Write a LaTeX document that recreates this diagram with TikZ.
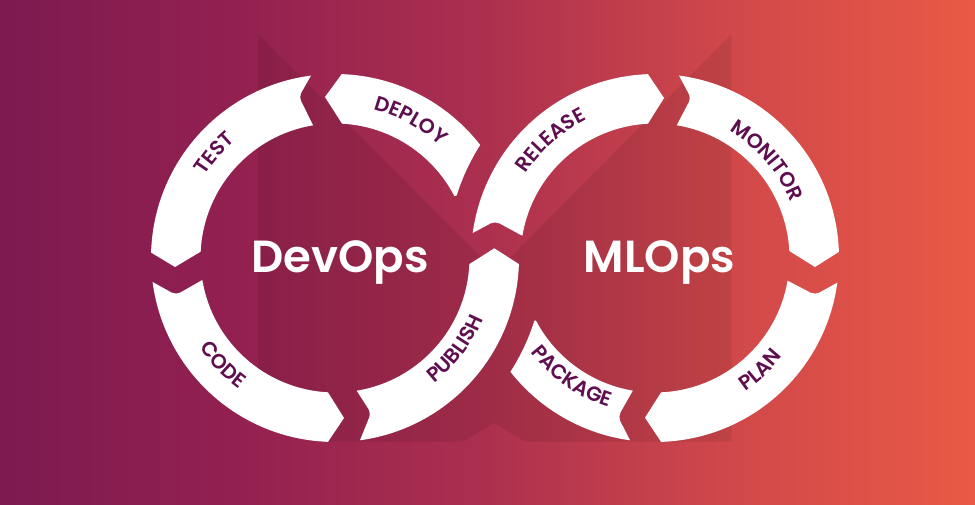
\documentclass[tikz,border=0pt]{standalone}
\usepackage{fontspec}
\usetikzlibrary{decorations.text}
\newfontfamily\titlefont{Poppins SemiBold}
\newfontfamily\lblfont{Poppins SemiBold}[LetterSpace=3]
\definecolor{lblcol}{HTML}{5F0F50}
\pgfdeclarehorizontalshading{bgshade}{100bp}{
  rgb(0bp)=(0.490,0.102,0.314);
  rgb(25bp)=(0.490,0.102,0.314);
  rgb(37.8bp)=(0.580,0.129,0.314);
  rgb(50bp)=(0.675,0.188,0.306);
  rgb(62.4bp)=(0.816,0.282,0.290);
  rgb(75bp)=(0.914,0.349,0.271);
  rgb(100bp)=(0.914,0.349,0.271)}
\tikzset{
  band/.style={fill=white,draw=none},
  mshade/.style={fill=black,fill opacity=0.08,draw=none},
  title/.style={text=white,anchor=base,font=\titlefont\fontsize{45}{45}\selectfont,inner sep=0pt},
}
\newcommand{\toplbl}[3]{% angle, radius, text (clockwise)
  \path[decorate,decoration={text along path,text align=center,text={|\lblfont\fontsize{20.5}{20.5}\selectfont\color{lblcol}|#3}}]
    ({#1+55}:#2) arc[start angle={#1+55},end angle={#1-55},radius=#2];}
\newcommand{\botlbl}[3]{% angle, radius, text (counter-clockwise)
  \path[decorate,decoration={text along path,text align=center,text={|\lblfont\fontsize{20.5}{20.5}\selectfont\color{lblcol}|#3}}]
    ({#1-55}:#2) arc[start angle={#1-55},end angle={#1+55},radius=#2];}
\begin{document}
\begin{tikzpicture}[x=1pt,y=1pt]
\useasboundingbox (0,0) rectangle (975,504);
\shade[shading=bgshade,shading angle=0] (0,0) rectangle (975,504);
% background M
\fill[mshade] (258,470) -- (496,232) -- (731.5,470) -- (731.5,62.3) -- (525,62.3) -- (494,81.3) -- (463,62.3) -- (330,62.3) -- (258,84) -- cycle;
% left ring
\begin{scope}[shift={(335,246)}]
  % TEST
  \fill[band] (97.5:184) arc[start angle=97.5,end angle=178.3,radius=184] -- (-160,-9) -- (177.3:134.5) arc[start angle=177.3,end angle=99.4,radius=134.5] [rounded corners=5pt] -- (-36,161.3) [sharp corners] -- cycle;
  % DEPLOY
  \fill[band] (87.9:184) arc[start angle=87.9,end angle=37.9,radius=184] arc[start angle=147.4,end angle=162.7,radius=209] -- (27.4:134.5) arc[start angle=27.4,end angle=87,radius=134.5] -- (-10,161) -- cycle;
  % CODE
  \fill[band] (187.5:184) arc[start angle=187.5,end angle=267.8,radius=184] -- (9,-160) -- (267:134.5) arc[start angle=267,end angle=189.4,radius=134.5] [rounded corners=5pt] -- (-159,-37) [sharp corners] -- cycle;
  % PUBLISH
  \fill[band] (277.8:184) arc[start angle=277.8,end angle=358.1,radius=184] -- (159.3,9.7) -- (357.4:134.5) arc[start angle=357.4,end angle=279.3,radius=134.5] [rounded corners=5pt] -- (36,-155) [sharp corners] -- cycle;
  \toplbl{139}{154}{TEST}
  \toplbl{61.2}{153.5}{DEPLOY}
  \botlbl{223.7}{162.5}{CODE}
  \botlbl{-37}{160}{PUBLISH}
\end{scope}
% right ring
\begin{scope}[shift={(655,246)}]
  % RELEASE
  \fill[band] (172.2:184) arc[start angle=172.2,end angle=92.2,radius=184] -- (9,160) -- (93:134.5) arc[start angle=93,end angle=170.5,radius=134.5] [rounded corners=5pt] -- (-160,37) [sharp corners] -- cycle;
  % MONITOR
  \fill[band] (82.5:184) arc[start angle=82.5,end angle=1.9,radius=184] -- (160,-9) -- (3:134.5) arc[start angle=3,end angle=80.7,radius=134.5] [rounded corners=5pt] -- (36,160) [sharp corners] -- cycle;
  % PLAN
  \fill[band] (-7.7:184) arc[start angle=-7.7,end angle=-88.1,radius=184] -- (-10,-159.7) -- (-87.4:134.5) arc[start angle=-87.4,end angle=-9.7,radius=134.5] [rounded corners=5pt] -- (160,-37) [sharp corners] -- cycle;
  % PACKAGE
  \fill[band] (262.2:184) arc[start angle=262.2,end angle=218.2,radius=184] arc[start angle=-32.9,end angle=-17.5,radius=209] -- (207.6:134.5) arc[start angle=207.6,end angle=260.5,radius=134.5] [rounded corners=5pt] -- (-37,-158.7) [sharp corners] -- cycle;
  \toplbl{131.5}{154}{RELEASE}
  \toplbl{41}{147}{MONITOR}
  \botlbl{-46.8}{161}{PLAN}
  \botlbl{235}{156}{PACKAGE}
\end{scope}
\node[title] (devops) at (340,231) {DevOps};
\node[title] (mlops) at (659.5,231) {MLOps};
\end{tikzpicture}
\end{document}
